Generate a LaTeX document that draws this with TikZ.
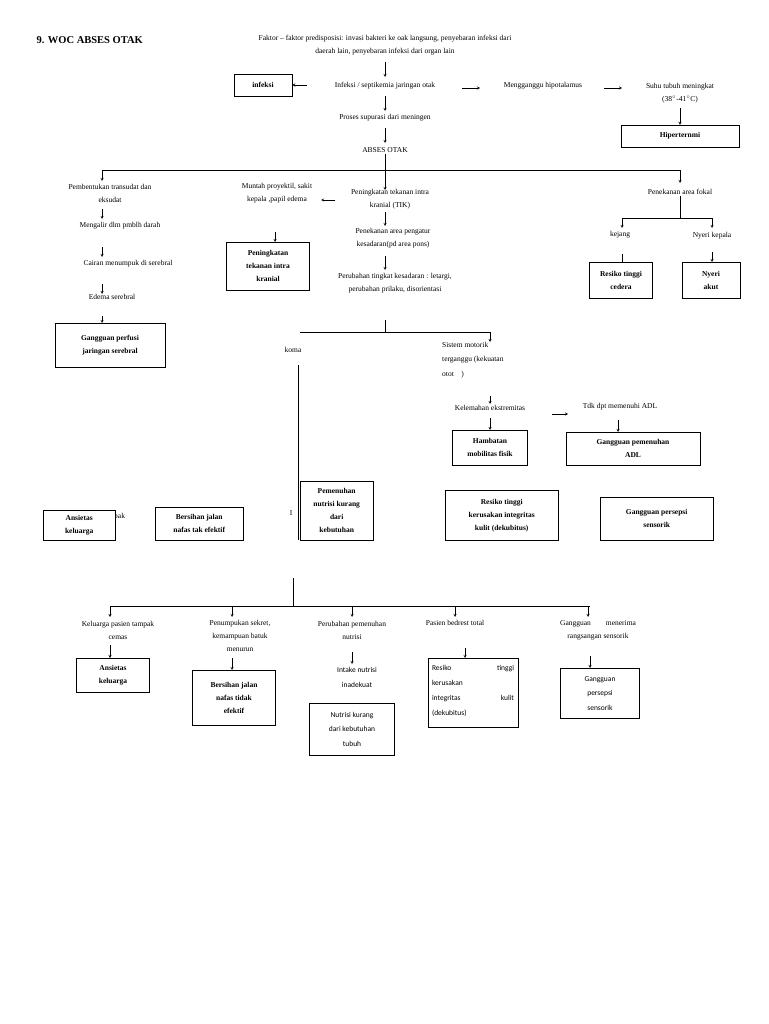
\documentclass[tikz,border=0pt]{standalone}
\usepackage{fontspec}
\setmainfont{Liberation Serif}
\newfontfamily\carl{Carlito}
\begin{document}
\begin{tikzpicture}[x=1pt,y=-1pt,
 t/.style={font=\fontsize{7.5}{13}\selectfont,align=center,inner sep=1pt},
 tl/.style={font=\fontsize{7.5}{14.5}\selectfont,align=left,inner sep=1pt,anchor=north west},
 bx/.style={draw,font=\bfseries\fontsize{7.5}{13}\selectfont,align=center,inner sep=2pt},
 sb/.style={draw,font=\carl\fontsize{7.5}{14.5}\selectfont,align=center,inner sep=2pt},
 ar/.style={->,>=stealth,thin},
 ln/.style={thin}]
\useasboundingbox (0,0) rectangle (768,1024);
\node[anchor=west,font=\bfseries\fontsize{10.5}{12}\selectfont] (title) at (33,40) {9. WOC ABSES OTAK};
\node[t] (fak) at (385,45) {Faktor -- faktor predisposisi: invasi bakteri ke oak langsung, penyebaran infeksi dari\\daerah lain, penyebaran infeksi dari organ lain};
\node[t] (inf) at (385,86) {Infeksi / septikemia jaringan otak};
\node[bx,minimum width=58pt,minimum height=22pt] (infb) at (263,85) {infeksi};
\node[t] (hipo) at (543,86) {Mengganggu hipotalamus};
\node[t] (suhu) at (680,93) {Suhu tubuh meningkat\\(38$^\circ$-41$^\circ$C)};
\node[bx,minimum width=118pt,minimum height=22pt] (hip) at (680,136) {Hiperternmi};
\node[t] (sup) at (385,118) {Proses supurasi dari meningen};
\node[t] (abs) at (385,150) {ABSES OTAK};
\draw[ar] (385,62) -- (385,77);
\draw[ar] (307,85) -- (infb.east);
\draw[ar] (462,88) -- (480,88);
\draw[ar] (604,88) -- (622,88);
\draw[ar] (680,108) -- (hip.north);
\draw[ar] (385,96) -- (385,111);
\draw[ar] (385,128) -- (385,143);
% level 1
\node[t] (pemb) at (110,193) {Pembentukan transudat dan\\eksudat};
\node[t] (tik) at (390,199) {Peningkatan tekanan intra\\kranial (TIK)};
\node[t] (fok) at (680,192) {Penekanan area fokal};
\coordinate (hl) at (102,170); \coordinate (hr) at (680,170);
\draw[ln] (hl) -- (hr);
\draw[ar] (hl) -- (102,181);
\draw[ar] (hr) -- (680,183);
\draw[ar] (abs) -- (385,190);
% left column
\node[t] (meng) at (120,226) {Mengalir dlm pmblh darah};
\node[t] (cair) at (128,264) {Cairan menumpuk di serebral};
\node[t] (edem) at (112,297) {Edema serebral};
\node[bx,minimum width=110pt,minimum height=44pt,anchor=north] (ggp) at (110,323) {Gangguan perfusi\\jaringan serebral};
\draw[ar] (102,209) -- (102,219);
\draw[ar] (102,247) -- (102,257);
\draw[ar] (102,284) -- (102,294);
\draw[ar] (102,316) -- (ggp.north -| hl);
% TIK column
\node[t] (munt) at (277,193) {Muntah proyektil, sakit\\kepala ,papil edema};
\node[bx,minimum width=83pt,minimum height=48pt,anchor=north] (ptik) at (268,242) {Peningkatan\\tekanan intra\\kranial};
\node[t] (pen) at (393,238) {Penekanan area pengatur\\kesadaran(pd area pons)};
\node[t] (per) at (395,283) {Perubahan tingkat kesadaran : letargi,\\perubahan prilaku, disorientasi};
\draw[ar] (335,200) -- (321,200);
\draw[ar] (275,232) -- (ptik.north -| 275,0);
\draw[ar] (385,212) -- (385,226);
\draw[ar] (385,256) -- (385,270);
% focal column
\coordinate (fl) at (622,218); \coordinate (fr) at (712,218);
\node[t] (kej) at (620,235) {kejang};
\node[t] (nyk) at (712,236) {Nyeri kepala};
\node[bx,minimum width=63pt,minimum height=36pt,anchor=north] (rtc) at (621,262) {Resiko tinggi\\cedera};
\node[bx,minimum width=58pt,minimum height=36pt,anchor=north] (nya) at (711,262) {Nyeri\\akut};
\draw[ln] (fok) -- (680,218); \draw[ln] (fl) -- (fr);
\draw[ar] (fl) -- (622,228);
\draw[ar] (fr) -- (712,228);
\draw[ln] (622,254) -- (rtc.north -| fl);
\draw[ar] (712,252) -- (nya.north -| fr);
% koma / motorik
\coordinate (kl) at (300,332); \coordinate (kr) at (490,332);
\draw[ln] (385,320) -- (385,332);
\draw[ln] (kl) -- (kr);
\node[t] (koma) at (293,350) {koma};
\node[tl] (mot) at (441,341) {Sistem motorik\\terganggu (kekuatan\\otot\quad )};
\draw[ar] (kr) -- (490,342);
\node[t] (kel) at (490,408) {Kelemahan ekstremitas};
\node[t] (adl) at (620,407) {Tdk dpt memenuhi ADL};
\draw[ar] (490,396) -- (490,404);
\draw[ar] (552,414) -- (568,414);
\node[bx,minimum width=75pt,minimum height=35pt,anchor=north] (ham) at (490,430) {Hambatan\\mobilitas fisik};
\node[bx,minimum width=134pt,minimum height=33pt,anchor=north] (gpa) at (633,432) {Gangguan pemenuhan\\ADL};
\draw[ar] (490,418) -- (ham.north -| 490,0);
\draw[ar] (618,420) -- (gpa.north -| 618,0);
% overlapping middle row
\draw[ln] (298,365) -- (298,540);
\node[t,anchor=west] (pak) at (113,517) {pak};
\node[bx,fill=white,minimum width=72pt,minimum height=30pt,anchor=north west] (ak1) at (43,510) {Ansietas\\keluarga};
\node[bx,minimum width=88pt,minimum height=33pt,anchor=north west] (bj1) at (155,507) {Bersihan jalan\\nafas tak efektif};
\node[t] (ii) at (291,513) {I};
\node[bx,fill=white,minimum width=73pt,minimum height=59pt,anchor=north west] (pn1) at (300,481) {Pemenuhan\\nutrisi kurang\\dari\\kebutuhan};
\node[bx,minimum width=113pt,minimum height=50pt,anchor=north west] (rt1) at (445,490) {Resiko tinggi\\kerusakan integritas\\kulit (dekubitus)};
\node[bx,minimum width=113pt,minimum height=43pt,anchor=north west] (gs1) at (600,497) {Gangguan persepsi\\sensorik};
% bottom
\coordinate (top) at (293,578); \coordinate (bl) at (110,606); \coordinate (br) at (590,606);
\draw[ln] (top) -- (293,606); \draw[ln] (bl) -- (br);
\node[t] (b1) at (118,630) {Keluarga pasien tampak\\cemas};
\node[t] (b2) at (240,636) {Penumpukan sekret,\\kemampuan batuk\\menurun};
\node[t] (b3) at (352,630) {Perubahan pemenuhan\\nutrisi};
\node[t] (b4) at (455,623) {Pasien bedrest total};
\node[t] (b5) at (598,630) {Gangguan\qquad menerima\\rangsangan sensorik};
\foreach \x in {110,232,352,455,588} \draw[ar] (\x,606) -- (\x,617);
\node[bx,minimum width=73pt,minimum height=34pt,anchor=north] (ak2) at (113,658) {Ansietas\\keluarga};
\node[bx,minimum width=83pt,minimum height=55pt,anchor=north] (bj2) at (234,670) {Bersihan jalan\\nafas tidak\\efektif};
\node[t,font=\carl\fontsize{7.5}{15}\selectfont] (intk) at (357,677) {Intake nutrisi\\inadekuat};
\node[sb,minimum width=85pt,minimum height=52pt,anchor=north] (nk) at (352,703) {Nutrisi kurang\\dari kebutuhan\\tubuh};
\node[draw,minimum width=90pt,minimum height=69pt,anchor=north,inner sep=2pt] (rt2) at (473,658) {};
\node[font=\carl\fontsize{7.5}{15}\selectfont,align=justify,text width=82pt,anchor=north] (rt2t) at (473,662) {Resiko \hfill tinggi\\kerusakan\\integritas \hfill kulit\\(dekubitus)};
\node[sb,minimum width=79pt,minimum height=50pt,anchor=north] (gs2) at (600,668) {Gangguan\\persepsi\\sensorik};
\draw[ar] (110,645) -- (ak2.north -| 110,0);
\draw[ar] (232,658) -- (bj2.north -| 232,0);
\draw[ar] (352,652) -- (352,664);
\draw[ar] (465,648) -- (rt2.north -| 465,0);
\draw[ar] (590,656) -- (gs2.north -| 590,0);
\end{tikzpicture}
\end{document}
